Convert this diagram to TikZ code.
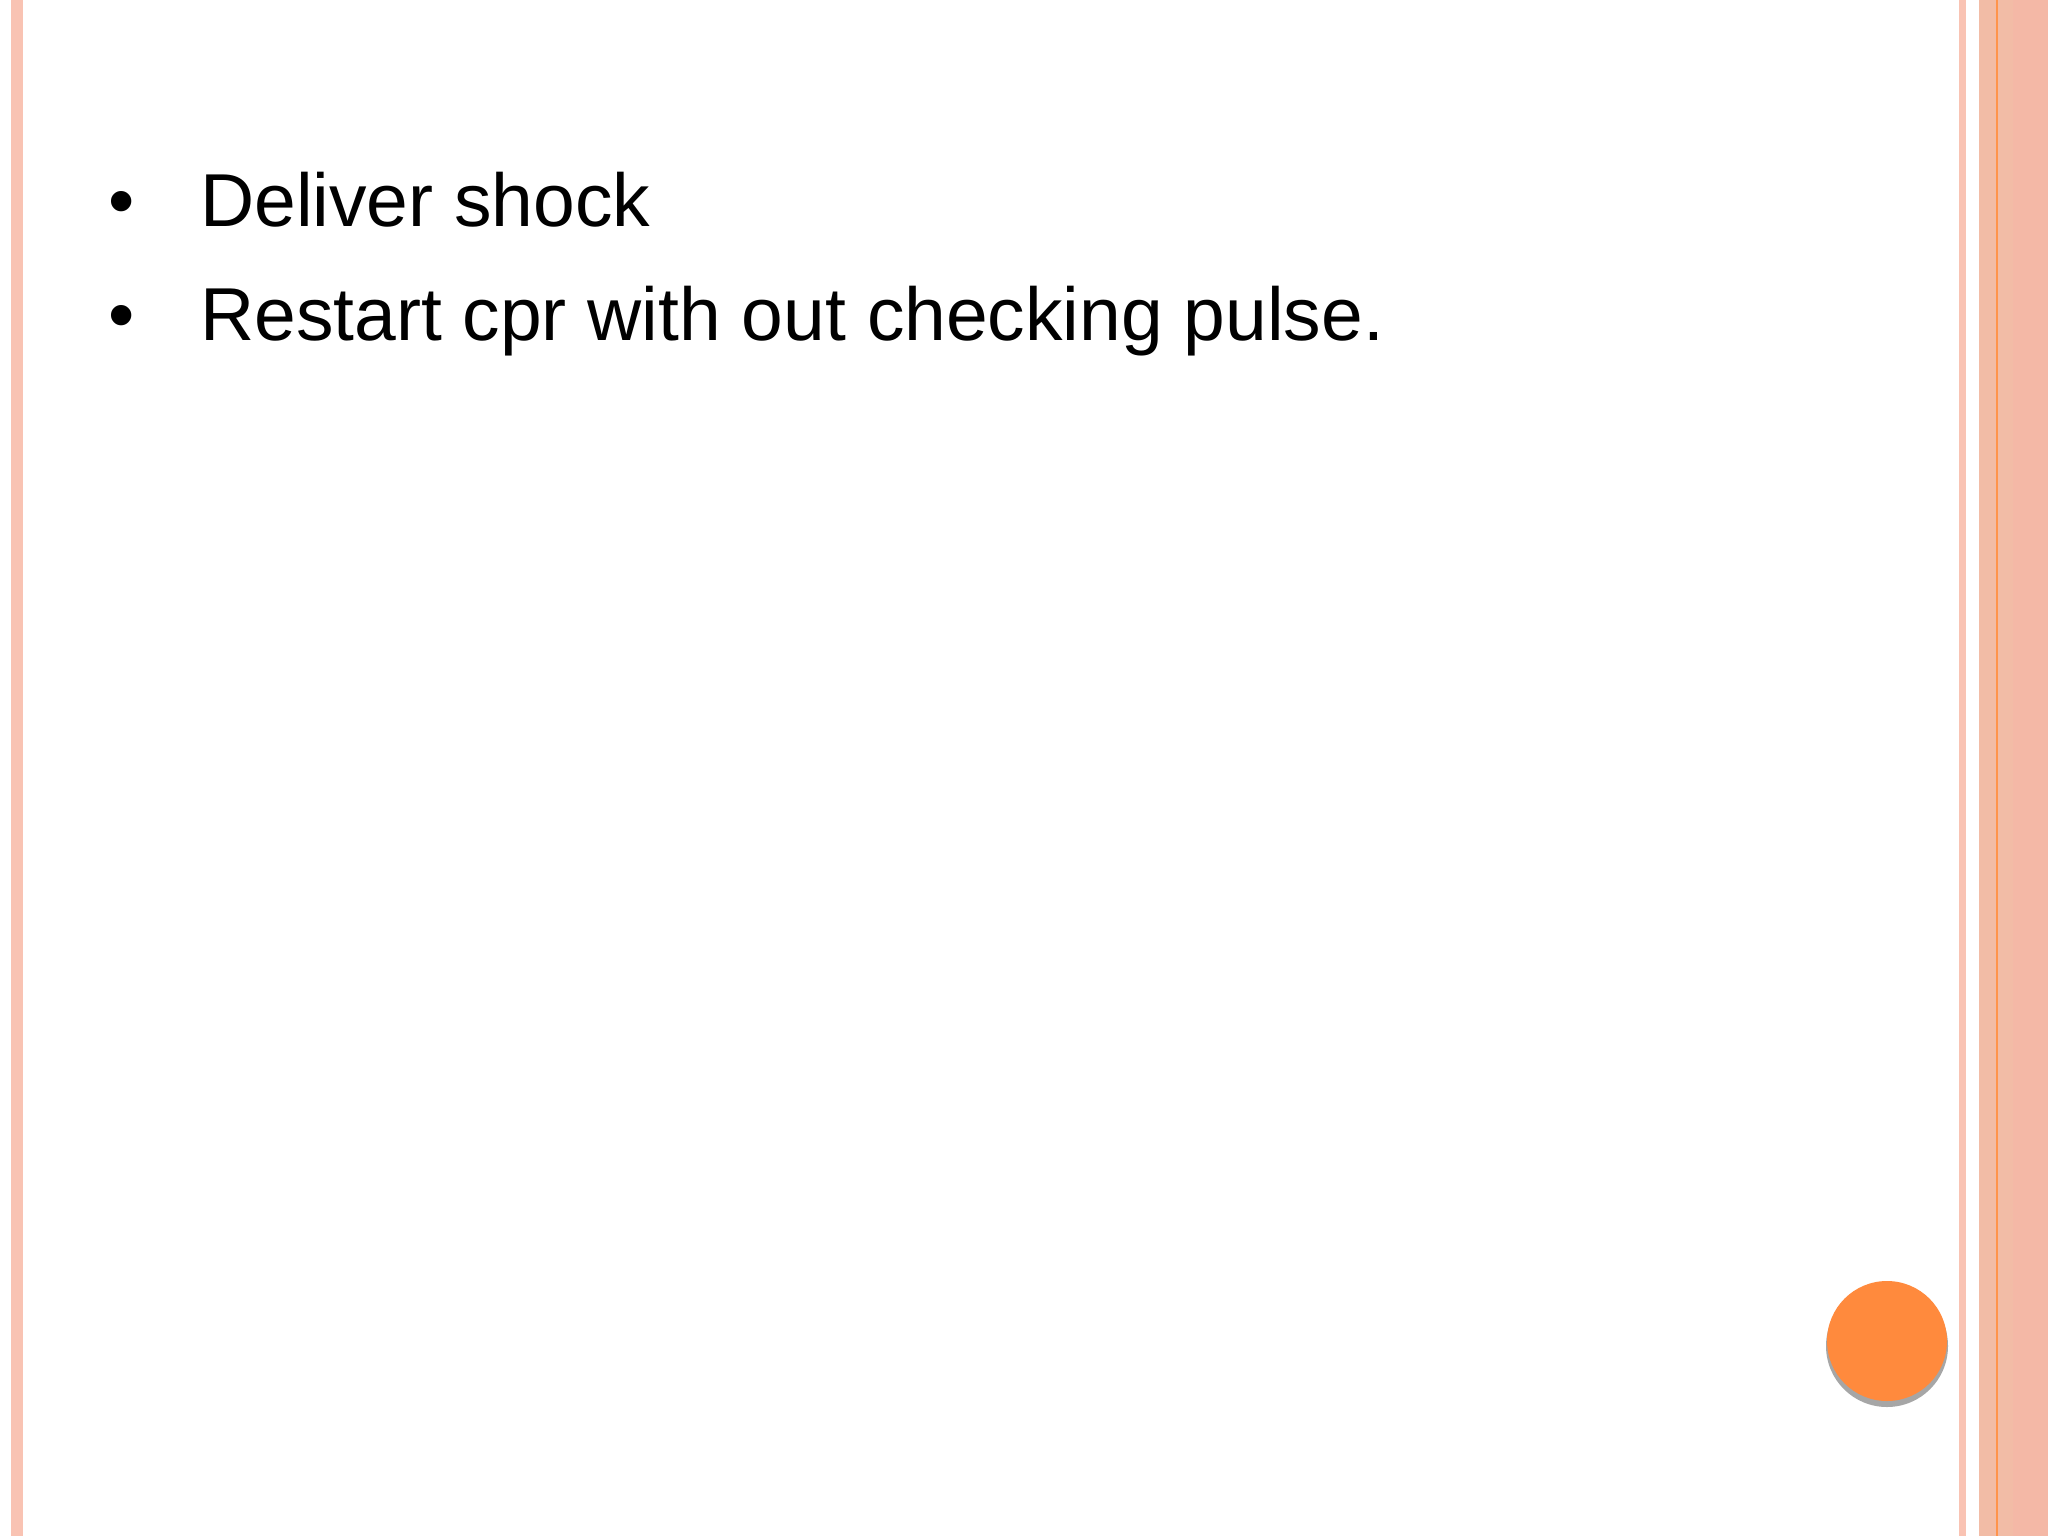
\documentclass[tikz,border=0pt]{standalone}
\usepackage{fontspec}
\setmainfont{Liberation Sans}
\begin{document}
\begin{tikzpicture}[x=1pt,y=-1pt,
  txt/.style={anchor=base west,inner sep=0pt,font=\fontsize{75}{90}\selectfont}]
\definecolor{pale}{HTML}{F9C3B3}
\definecolor{band}{HTML}{F2BCA6}
\definecolor{band2}{HTML}{F4B8A6}
\definecolor{dot}{HTML}{FF8A3D}
\useasboundingbox (0,0) rectangle (2048,1536);
\fill[white] (0,0) rectangle (2048,1536);
\fill[pale] (11,0) rectangle (23,1536);
\fill[pale] (1959,0) rectangle (1966,1536);
\fill[band] (1979,0) rectangle (2013,1536);
\fill[band2] (2013,0) rectangle (2048,1536);
\fill[orange!80!red!70] (1996,0) rectangle (1998,1536);
\node[txt] (b1) at (108,226) {•};
\node[txt] (t1) at (200,226) {Deliver shock};
\node[txt] (b2) at (108,340) {•};
\node[txt] (t2) at (200,340) {Restart cpr with out checking pulse.};
\fill[gray!70] (1887,1346) circle (61);
\fill[dot] (1887,1341) circle (60);
\end{tikzpicture}
\end{document}
